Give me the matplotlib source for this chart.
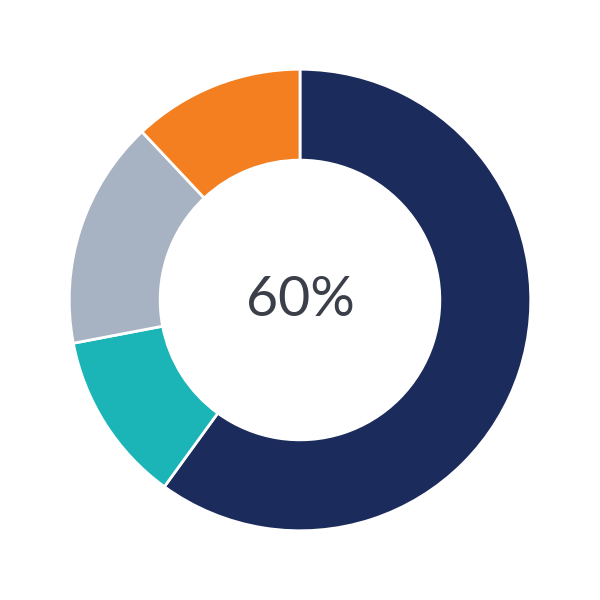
import matplotlib.pyplot as plt

# share of each segment, clockwise from 12 o'clock
labels = ["Navy", "Teal", "Gray", "Orange"]
values = [60, 12, 16, 12]
colors = ["#1B2B5B", "#1BB5B8", "#A7B3C2", "#F47F20"]
center_label = "60%"

fig = plt.figure(figsize=(6, 6), dpi=100)
ax = fig.add_axes([0, 0, 1, 1])

ax.pie(values, colors=colors, startangle=90, counterclock=False, radius=1.0,
       wedgeprops=dict(width=0.394, edgecolor="white", linewidth=2))

ax.text(0, 0, center_label, ha="center", va="center", fontsize=40,
        color="#3A3F4A", family=["Lato", "DejaVu Sans"], fontweight="normal")

ax.set_xlim(-1.3, 1.3)
ax.set_ylim(-1.3, 1.3)
ax.set_aspect("equal")
ax.axis("off")

fig.savefig("out.png", dpi=100, facecolor="white")
